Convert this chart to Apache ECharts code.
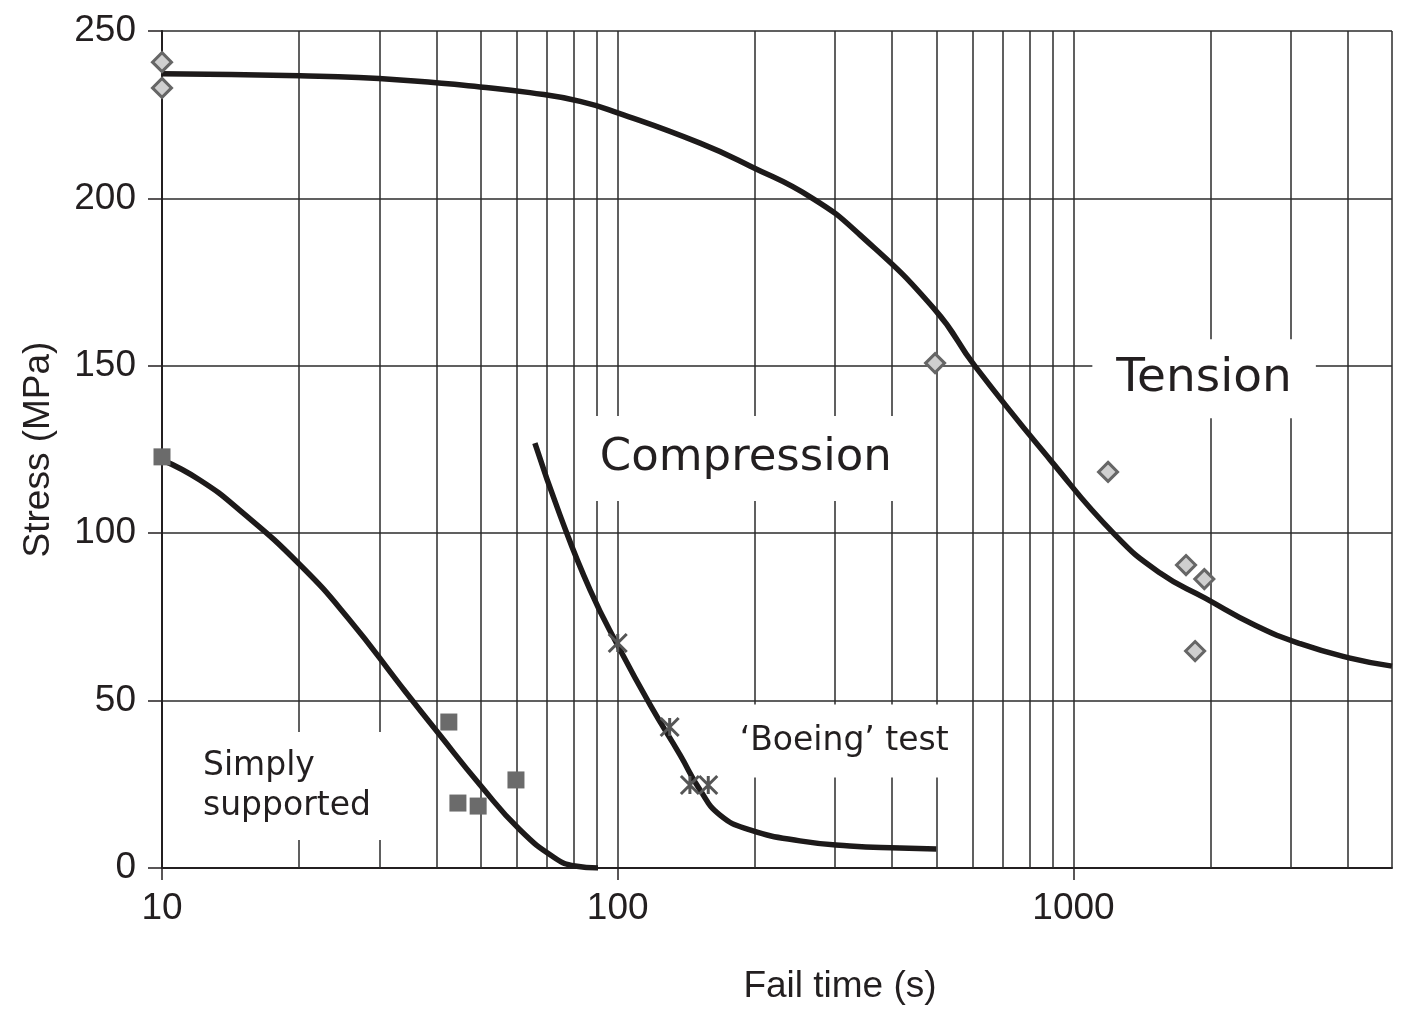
<!DOCTYPE html>
<html>
<head>
<meta charset="utf-8">
<title>Stress vs fail time</title>
<script src="https://cdn.jsdelivr.net/npm/echarts@6/dist/echarts.min.js"></script>
<style>
  html, body { margin: 0; padding: 0; background: #fff; }
  #chart { width: 1406px; height: 1020px; }
</style>
</head>
<body>
<div id="chart"></div>
<script>
// fitted curves: [fail time (s), stress (MPa)]
var tensionCurve = [
  [10, 237.2], [20.1, 236.6], [33.3, 235.4], [49.9, 233.3], [64.2, 231.6],
  [82.7, 229.0], [100.7, 225.4], [151.6, 216.5], [195, 209.7], [267, 200.1], [340, 189.1],
  [497, 166.7], [608, 149.9], [889, 121.9], [1234, 99.5], [1549, 88.1],
  [1945, 80.6], [2503, 72.5], [3143, 67.0], [4046, 62.7], [5000, 60.3]
];
var compressionCurve = [
  [65.8, 126.9], [74.7, 105.4], [87.0, 83.0], [100.7, 65.7], [117.8, 48.7],
  [137, 33.8], [151.6, 23.3], [167.7, 15.8], [195, 11.4], [251, 8.1],
  [323, 6.6], [416, 6.0], [500, 5.7]
];
var simpleCurve = [
  [10, 121.9], [12.1, 115.9], [14.8, 106.9], [20.1, 90.5], [25.8, 74.1],
  [33.3, 54.7], [40.7, 39.7], [49.9, 24.8], [61.0, 11.4], [72.8, 3.0],
  [80.6, 0.6], [90.5, 0]
];

// test points
var tensionPts = [
  [10, 240.7], [10, 233.0], [497, 150.8], [1191, 118.3],
  [1766, 90.5], [1937, 86.3], [1849, 64.8]
];
var boeingPts = [[100, 67.2], [130, 42.1], [144, 24.8], [158, 24.8]];
var simplePts = [[10, 122.8], [42.6, 43.6], [44.6, 19.4], [49.4, 18.5], [59.8, 26.3]];

// text on the plot: [text, time, stress]
var notes = [
  ['Compression', 191, 122.3],
  ['Tension', 1935, 146.1],
  ['\u2018Boeing\u2019 test', 314, 37.9],
  ['Simply\nsupported', 11.46, 24.5]
];

var majorTicks = [10, 100, 1000];
var minorLines = [20, 30, 40, 50, 60, 70, 80, 90, 200, 300, 400, 500, 600, 700, 800, 900,
                  2000, 3000, 4000, 5000];

var ink = '#231f20';
var gridLine = { color: '#2b2b2b', width: 1.5 };
var font = 'Liberation Sans, Arial, sans-serif';

// look of each text box
var noteStyle = {
  'Compression': { size: 45, pad: [18, 4], align: 'center' },
  'Tension': { size: 47, pad: [14, 24], align: 'center' },
  '\u2018Boeing\u2019 test': { size: 33, pad: [18, 16], align: 'center' },
  'Simply\nsupported': { size: 33, pad: [14, 14], align: 'left' }
};

var chart = echarts.init(document.getElementById('chart'));

chart.setOption({
  animation: false,
  backgroundColor: '#fff',
  grid: { left: 162, right: 14, top: 31, bottom: 152 },
  xAxis: {
    type: 'log',
    logBase: 10,
    min: 10,
    max: 5000,
    name: 'Fail time (s)',
    nameLocation: 'middle',
    nameGap: 100,
    nameTextStyle: { fontFamily: font, fontSize: 37, color: ink, padding: [0, 0, 0, 126] },
    axisLine: { show: true, lineStyle: { color: ink, width: 2 } },
    axisTick: { show: true, length: 12, customValues: majorTicks, lineStyle: { color: ink, width: 1.5 } },
    axisLabel: {
      customValues: majorTicks, fontFamily: font, fontSize: 37, color: ink, margin: 22,
      formatter: function (v) { return String(Math.round(v)); }
    },
    splitLine: { show: true, lineStyle: gridLine },
    minorTick: { show: false },
    minorSplitLine: { show: false }
  },
  yAxis: {
    type: 'value',
    min: 0,
    max: 250,
    interval: 50,
    name: 'Stress (MPa)',
    nameLocation: 'middle',
    nameGap: 105,
    nameTextStyle: { fontFamily: font, fontSize: 37, color: ink },
    axisLine: { show: true, lineStyle: { color: ink, width: 2 } },
    axisTick: { show: true, length: 14, lineStyle: { color: ink, width: 1.5 } },
    axisLabel: { fontFamily: font, fontSize: 37, color: ink, margin: 26 },
    splitLine: { show: true, lineStyle: gridLine }
  },
  series: [
    {
      // the other vertical grid lines of the log axis
      type: 'scatter',
      data: [],
      z: 1,
      silent: true,
      markLine: {
        silent: true,
        symbol: 'none',
        z: 1,
        label: { show: false },
        lineStyle: { type: 'solid', color: gridLine.color, width: gridLine.width },
        data: minorLines.map(function (v) { return { xAxis: v }; })
      }
    },
    {
      type: 'line', data: tensionCurve, smooth: 0.5, showSymbol: false, z: 3,
      lineStyle: { color: '#1d1a1a', width: 5.5 }
    },
    {
      type: 'line', data: compressionCurve, smooth: 0.5, showSymbol: false, z: 3,
      lineStyle: { color: '#1d1a1a', width: 5.5 }
    },
    {
      type: 'line', data: simpleCurve, smooth: 0.5, showSymbol: false, z: 3,
      lineStyle: { color: '#1d1a1a', width: 5.5 }
    },
    {
      type: 'scatter', data: tensionPts, symbol: 'diamond', symbolSize: 19, z: 4,
      itemStyle: { color: '#cfcfcf', borderColor: '#666', borderWidth: 3, opacity: 1 }
    },
    {
      type: 'scatter', data: simplePts, symbol: 'rect', symbolSize: 17, z: 4,
      itemStyle: { color: '#6b6b6b', opacity: 1 }
    },
    {
      type: 'scatter', data: boeingPts, z: 4,
      symbol: 'path://M0,0L10,10M10,0L0,10M5,0L5,10',
      symbolSize: 18,
      itemStyle: { color: 'none', borderColor: '#555', borderWidth: 3, opacity: 1 }
    },
    {
      type: 'scatter',
      z: 10,
      silent: true,
      symbolSize: 0,
      itemStyle: { opacity: 1 },
      data: notes.map(function (n) {
        var s = noteStyle[n[0]];
        return {
          name: n[0],
          value: [n[1], n[2]],
          label: {
            show: true,
            position: 'inside',
            formatter: n[0],
            fontFamily: 'DejaVu Sans, sans-serif',
            fontSize: s.size,
            lineHeight: n[0].indexOf('\n') >= 0 ? 40 : s.size + 4,
            align: s.align,
            color: ink,
            backgroundColor: '#fff',
            padding: s.pad
          }
        };
      })
    }
  ]
});
</script>
</body>
</html>
